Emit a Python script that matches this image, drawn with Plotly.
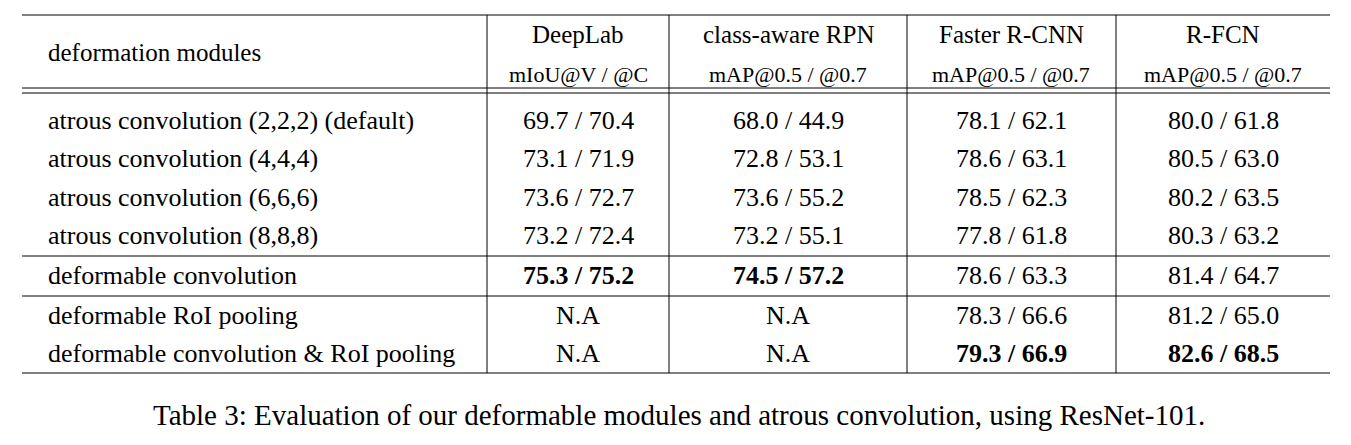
import plotly.graph_objects as go

W, H = 1351, 445

columns = ["DeepLab", "class-aware RPN", "Faster R-CNN", "R-FCN"]
metrics = ["mIoU@V / @C", "mAP@0.5 / @0.7", "mAP@0.5 / @0.7", "mAP@0.5 / @0.7"]
row_labels = [
    "atrous convolution (2,2,2) (default)",
    "atrous convolution (4,4,4)",
    "atrous convolution (6,6,6)",
    "atrous convolution (8,8,8)",
    "deformable convolution",
    "deformable RoI pooling",
    "deformable convolution & RoI pooling",
]
deeplab = ["69.7 / 70.4", "73.1 / 71.9", "73.6 / 72.7", "73.2 / 72.4", "75.3 / 75.2", "N.A", "N.A"]
rpn = ["68.0 / 44.9", "72.8 / 53.1", "73.6 / 55.2", "73.2 / 55.1", "74.5 / 57.2", "N.A", "N.A"]
faster = ["78.1 / 62.1", "78.6 / 63.1", "78.5 / 62.3", "77.8 / 61.8", "78.6 / 63.3", "78.3 / 66.6", "79.3 / 66.9"]
rfcn = ["80.0 / 61.8", "80.5 / 63.0", "80.2 / 63.5", "80.3 / 63.2", "81.4 / 64.7", "81.2 / 65.0", "82.6 / 68.5"]
bold = {(4, 0), (4, 1), (6, 2), (6, 3)}
caption = "Table 3: Evaluation of our deformable modules and atrous convolution, using ResNet-101."

# layout geometry (pixels)
left, right = 22, 1330
col_edges = [487, 669, 907, 1116]
col_centers = [578, 788, 1011, 1223]
row_y = [120, 158, 197, 235, 275, 315, 353]
hlines = [(15, 1.2), (88, 1), (93, 1), (256, 1), (296, 1), (373, 1.2)]

FONT = "Liberation Serif"
fig = go.Figure()
shapes = []
for y, w in hlines:
    shapes.append(dict(type="line", x0=left, x1=right, y0=y, y1=y, line=dict(color="black", width=w)))
for x in col_edges:
    shapes.append(dict(type="line", x0=x, x1=x, y0=15, y1=373, line=dict(color="black", width=1)))

ann = []
ann.append(dict(x=46, y=52, text="deformation modules", xanchor="left", font=dict(size=25)))
for c, m, x in zip(columns, metrics, col_centers):
    ann.append(dict(x=x, y=34, text=c, font=dict(size=25)))
    ann.append(dict(x=x, y=74, text=m, font=dict(size=22)))
cols = [deeplab, rpn, faster, rfcn]
for i, (lab, y) in enumerate(zip(row_labels, row_y)):
    ann.append(dict(x=46, y=y, text=lab, xanchor="left", font=dict(size=26)))
    for j, col in enumerate(cols):
        t = col[i]
        if (i, j) in bold:
            t = "<b>" + t + "</b>"
        ann.append(dict(x=col_centers[j], y=y, text=t, font=dict(size=26)))
ann.append(dict(x=679, y=415, text=caption, font=dict(size=29)))
for a in ann:
    a.update(xref="x", yref="y", showarrow=False, yanchor="middle")
    a.setdefault("xanchor", "center")
    a["font"].update(family=FONT, color="black")

# page body adds an 8px offset, so shift the axis ranges to compensate
fig.update_layout(
    width=W, height=H, margin=dict(l=0, r=0, t=0, b=0),
    paper_bgcolor="white", plot_bgcolor="white",
    xaxis=dict(range=[8, W + 8], visible=False, fixedrange=True),
    yaxis=dict(range=[H + 8, 8], visible=False, fixedrange=True),
    shapes=shapes, annotations=ann, showlegend=False,
)
fig.write_html("out.html")
